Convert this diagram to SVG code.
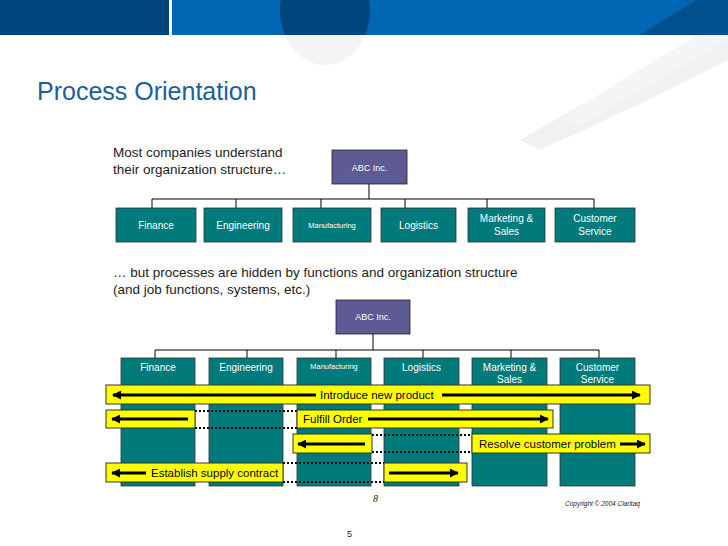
<svg xmlns="http://www.w3.org/2000/svg" width="728" height="546" viewBox="0 0 728 546">
<defs>
<style>
.t{font-family:"Liberation Sans",Arial,sans-serif}
.org{fill:#007a7a;stroke:#333;stroke-width:0.8}
.top{fill:#5e5a94;stroke:#222;stroke-width:0.8}
.wt{font-family:"Liberation Sans",Arial,sans-serif;fill:#fff;font-size:10px;text-anchor:middle}
.sm{font-size:7.5px}
.ab{font-size:9px}
.bar{fill:#ffff00;stroke:#333;stroke-width:1}
.ar{stroke:#000;stroke-width:3;fill:none}
.dot{stroke:#000;stroke-width:2.2;stroke-dasharray:2 2;fill:none}
.ln{stroke:#000;stroke-width:1;fill:none}
.bt{font-family:"Liberation Sans",Arial,sans-serif;font-size:11.5px;fill:#000}
</style>
<marker id="ah" viewBox="0 0 10 10" refX="9" refY="5" markerWidth="3" markerHeight="3" orient="auto-start-reverse"><path d="M0,0L10,5L0,10z" fill="#000"/></marker>
<clipPath id="band"><rect x="172" y="0" width="556" height="35"/></clipPath>
</defs>
<rect width="728" height="546" fill="#fff"/>
<path d="M520,140 Q640,70 728,30 L728,60 Q650,100 540,150z" fill="#f0f1f3"/>
<path d="M560,120 Q650,60 728,20 L728,40 Q660,80 580,125z" fill="#f4f5f6"/>
<ellipse cx="325" cy="10" rx="45" ry="55" fill="#f3f4f5"/>
<rect x="0" y="0" width="169" height="35" fill="#00457c"/>
<rect x="172" y="0" width="556" height="35" fill="#0066b3"/>
<g clip-path="url(#band)">
<ellipse cx="325" cy="10" rx="45" ry="55" fill="#00457c"/>
<path d="M640,35 L728,-20 L728,35z" fill="#00508d"/>
</g>
<text class="t" x="37" y="100" font-size="25" fill="#1a5f9e">Process Orientation</text>

<text class="t" x="113" y="157" font-size="13.5" fill="#222">Most companies understand</text>
<text class="t" x="113" y="174" font-size="13.5" fill="#222">their organization structure…</text>
<text class="t" x="113" y="277" font-size="13.5" fill="#222">… but processes are hidden by functions and organization structure</text>
<text class="t" x="113" y="294" font-size="13.5" fill="#222">(and job functions, systems, etc.)</text>

<g id="connectors">
<path class="ln" d="M369,184V199M152,199H594M152,199V208M236,199V208M321,199V208M405,199V208M487,199V208M594,199V208"/>
<path class="ln" d="M373,334V350M155,350H599M155,350V358M247,350V358M336,350V358M423,350V358M511,350V358M599,350V358"/>
</g>

<g id="abc1"><rect class="top" x="332" y="150" width="75" height="34"/><text class="wt ab" x="369.5" y="171">ABC Inc.</text></g>
<g id="finance1"><rect class="org" x="116" y="208" width="80" height="34"/><text class="wt" x="156" y="229">Finance</text></g>
<g id="eng1"><rect class="org" x="204" y="208" width="78" height="34"/><text class="wt" x="243" y="229">Engineering</text></g>
<g id="man1"><rect class="org" x="293" y="208" width="78" height="34"/><text class="wt sm" x="332" y="228">Manufacturing</text></g>
<g id="log1"><rect class="org" x="381" y="208" width="75" height="34"/><text class="wt" x="418.5" y="229">Logistics</text></g>
<g id="mkt1"><rect class="org" x="468" y="208" width="77" height="34"/><text class="wt" x="506.5" y="222">Marketing &amp;</text><text class="wt" x="506.5" y="235">Sales</text></g>
<g id="cs1"><rect class="org" x="555" y="208" width="80" height="34"/><text class="wt" x="595" y="222">Customer</text><text class="wt" x="595" y="235">Service</text></g>

<g id="abc2"><rect class="top" x="336" y="300" width="74" height="34"/><text class="wt ab" x="373" y="320">ABC Inc.</text></g>
<g id="finance2"><rect class="org" x="121" y="358" width="74" height="128"/><text class="wt" x="158" y="371">Finance</text></g>
<g id="eng2"><rect class="org" x="209" y="358" width="74" height="128"/><text class="wt" x="246" y="371">Engineering</text></g>
<g id="man2"><rect class="org" x="297" y="358" width="74" height="128"/><text class="wt sm" x="334" y="369">Manufacturing</text></g>
<g id="log2"><rect class="org" x="384" y="358" width="75" height="128"/><text class="wt" x="421.5" y="371">Logistics</text></g>
<g id="mkt2"><rect class="org" x="472" y="358" width="75" height="128"/><text class="wt" x="509.5" y="371">Marketing &amp;</text><text class="wt" x="509.5" y="383">Sales</text></g>
<g id="cs2"><rect class="org" x="560" y="358" width="75" height="128"/><text class="wt" x="597.5" y="371">Customer</text><text class="wt" x="597.5" y="383">Service</text></g>

<g id="processes">
<path class="dot" d="M195,411H297M195,428H297M372,435H472M372,452H472M283,463H384M283,482H384"/>
<rect class="bar" x="106" y="385" width="544" height="19"/>
<path class="ar" d="M316,395H113" marker-end="url(#ah)"/>
<text class="bt" x="320" y="399">Introduce new product</text>
<path class="ar" d="M442,395H640" marker-end="url(#ah)"/>
<rect class="bar" x="106" y="410" width="89" height="18"/>
<path class="ar" d="M188,419H112" marker-end="url(#ah)"/>
<rect class="bar" x="297" y="410" width="256" height="18"/>
<text class="bt" x="303" y="423">Fulfill Order</text>
<path class="ar" d="M368,419H548" marker-end="url(#ah)"/>
<rect class="bar" x="293" y="434" width="79" height="19"/>
<path class="ar" d="M365,444H298" marker-end="url(#ah)"/>
<rect class="bar" x="472" y="434" width="178" height="19"/>
<text class="bt" x="479" y="448">Resolve customer problem</text>
<path class="ar" d="M620,444H645" marker-end="url(#ah)"/>
<rect class="bar" x="106" y="463" width="177" height="19"/>
<path class="ar" d="M146,473H112" marker-end="url(#ah)"/>
<text class="bt" x="151" y="477">Establish supply contract</text>
<rect class="bar" x="384" y="463" width="83" height="19"/>
<path class="ar" d="M389,473H458" marker-end="url(#ah)"/>
</g>

<text x="373" y="502" font-family="Liberation Serif,serif" font-style="italic" font-size="10" fill="#222">8</text>
<text class="t" x="565" y="506" font-size="6.5" font-style="italic" fill="#222">Copyright © 2004 Claritaq</text>
<text class="t" x="347" y="537" font-size="9" fill="#222">5</text>
</svg>
